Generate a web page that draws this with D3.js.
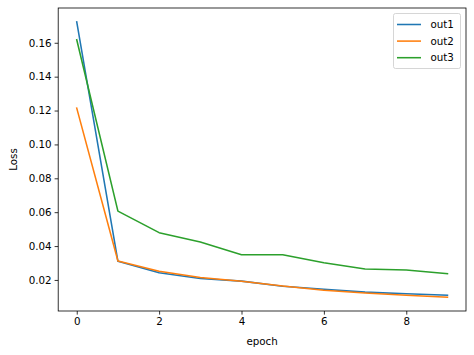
<!DOCTYPE html>
<html>
<head>
<meta charset="utf-8">
<script src="https://cdn.jsdelivr.net/npm/d3@7"></script>
<style>
  html, body { margin: 0; padding: 0; background: #fff; }
  svg { display: block; }
  text { font-family: "DejaVu Sans", sans-serif; fill: #000; }
</style>
</head>
<body>
<svg id="chart" width="474" height="355"></svg>
<script>
const epochs = [0, 1, 2, 3, 4, 5, 6, 7, 8, 9];
const out1 = [0.1724, 0.0310, 0.0243, 0.0208, 0.0193, 0.0163, 0.0145, 0.0128, 0.0119, 0.0110];
const out2 = [0.1214, 0.0312, 0.0251, 0.0214, 0.0192, 0.0164, 0.0139, 0.0123, 0.0110, 0.0098];
const out3 = [0.1618, 0.0606, 0.0479, 0.0424, 0.0349, 0.0349, 0.0302, 0.0265, 0.0259, 0.0237];
const seriesNames = ["out1", "out2", "out3"];
const seriesColors = ["#1f77b4", "#ff7f0e", "#2ca02c"];
const xTicks = [0, 2, 4, 6, 8];
const yTicks = [0.02, 0.04, 0.06, 0.08, 0.10, 0.12, 0.14, 0.16];

const series = [out1, out2, out3];
const svg = d3.select("#chart");
const L = 58.2, R = 466, T = 8, B = 311;

const allVals = series.flat();
const yMin = d3.min(allVals), yMax = d3.max(allVals);
const pad = (yMax - yMin) * 0.05;
const x = d3.scaleLinear().domain([-0.45, 9.45]).range([L, R]);
const y = d3.scaleLinear().domain([yMin - pad, yMax + pad]).range([B, T]);

// lines
const line = d3.line().x((d, i) => x(epochs[i])).y(d => y(d));
series.forEach((s, k) => {
  svg.append("path").datum(s)
    .attr("d", line)
    .attr("fill", "none")
    .attr("stroke", seriesColors[k])
    .attr("stroke-width", 1.55)
    .attr("stroke-linejoin", "round")
    .attr("stroke-linecap", "square");
});

// axes
const xAxis = d3.axisBottom(x).tickValues(xTicks).tickFormat(d3.format("d")).tickSize(3.6).tickPadding(3);
const yAxis = d3.axisLeft(y).tickValues(yTicks).tickFormat(d3.format(".2f")).tickSize(3.6).tickPadding(3);

const gx = svg.append("g").attr("transform", `translate(0,${B})`).call(xAxis);
const gy = svg.append("g").attr("transform", `translate(${L},0)`).call(yAxis);
[gx, gy].forEach(g => {
  g.select(".domain").remove();
  g.selectAll(".tick line").attr("stroke", "#000").attr("stroke-width", 0.8);
  g.selectAll(".tick text").style("font-family", "DejaVu Sans, sans-serif").style("font-size", "10.3px").attr("fill", "#000");
});

// frame
svg.append("rect").attr("x", L).attr("y", T).attr("width", R - L).attr("height", B - T)
  .attr("fill", "none").attr("stroke", "#000").attr("stroke-width", 0.8);

// axis labels
svg.append("text").attr("x", (L + R) / 2).attr("y", 345).attr("text-anchor", "middle")
  .style("font-size", "10.3px").text("epoch");
svg.append("text").attr("transform", `translate(17,${(T + B) / 2}) rotate(-90)`).attr("text-anchor", "middle")
  .style("font-size", "10.3px").text("Loss");

// legend
const lg = svg.append("g");
lg.append("rect").attr("x", 393.5).attr("y", 13.5).attr("width", 67).attr("height", 55).attr("rx", 2)
  .attr("fill", "#fff").attr("fill-opacity", 0.8).attr("stroke", "#ccc").attr("stroke-width", 0.8);
seriesNames.forEach((n, k) => {
  const yy = 24.5 + k * 16.6;
  lg.append("line").attr("x1", 397).attr("x2", 421).attr("y1", yy).attr("y2", yy)
    .attr("stroke", seriesColors[k]).attr("stroke-width", 1.55);
  lg.append("text").attr("x", 430.5).attr("y", yy).attr("dy", "0.35em")
    .style("font-size", "10.3px").text(n);
});
</script>
</body>
</html>
